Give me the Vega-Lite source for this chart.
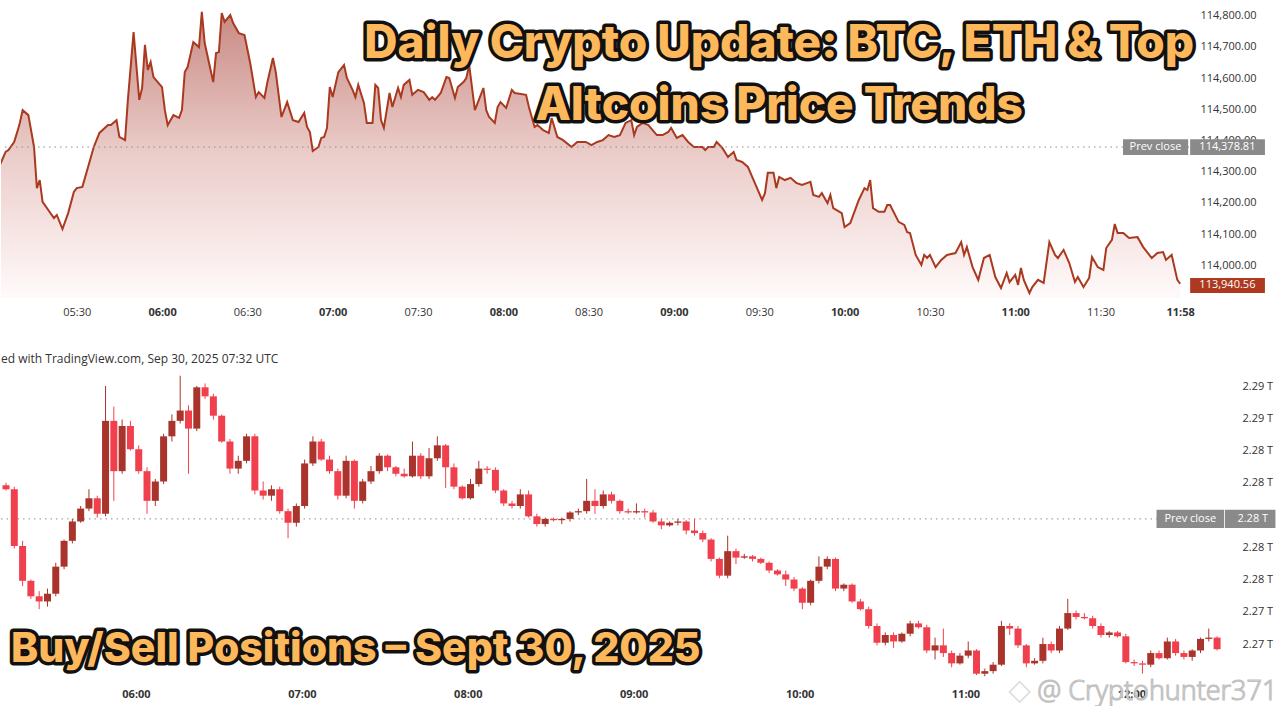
{
  "$schema": "https://vega.github.io/schema/vega-lite/v6.json",
  "background": "white",
  "padding": {"left": 0, "top": 8, "right": 0, "bottom": 0},
  "spacing": 36,
  "config": {
    "view": {"stroke": null},
    "axis": {"labelFont": "Open Sans", "labelColor": "#333333", "labelFontSize": 11, "domain": false, "ticks": false, "grid": false, "labelFlush": false, "labelOverlap": false}
  },
  "datasets": {
    "btc": [
      {"t":"2025-09-30T05:03","p":114321},{"t":"2025-09-30T05:05","p":114363},{"t":"2025-09-30T05:06","p":114369},{"t":"2025-09-30T05:08","p":114395},{"t":"2025-09-30T05:09","p":114424},{"t":"2025-09-30T05:10","p":114456},{"t":"2025-09-30T05:11","p":114497},{"t":"2025-09-30T05:13","p":114481},{"t":"2025-09-30T05:15","p":114379},{"t":"2025-09-30T05:16","p":114247},{"t":"2025-09-30T05:17","p":114273},{"t":"2025-09-30T05:18","p":114203},{"t":"2025-09-30T05:20","p":114177},{"t":"2025-09-30T05:22","p":114151},{"t":"2025-09-30T05:23","p":114161},{"t":"2025-09-30T05:25","p":114116},{"t":"2025-09-30T05:27","p":114167},{"t":"2025-09-30T05:29","p":114235},{"t":"2025-09-30T05:30","p":114247},{"t":"2025-09-30T05:32","p":114251},{"t":"2025-09-30T05:34","p":114315},{"t":"2025-09-30T05:36","p":114379},{"t":"2025-09-30T05:38","p":114424},{"t":"2025-09-30T05:41","p":114449},{"t":"2025-09-30T05:42","p":114449},{"t":"2025-09-30T05:44","p":114465},{"t":"2025-09-30T05:45","p":114411},{"t":"2025-09-30T05:47","p":114401},{"t":"2025-09-30T05:48","p":114530},{"t":"2025-09-30T05:50","p":114747},{"t":"2025-09-30T05:52","p":114530},{"t":"2025-09-30T05:53","p":114568},{"t":"2025-09-30T05:54","p":114706},{"t":"2025-09-30T05:55","p":114626},{"t":"2025-09-30T05:56","p":114651},{"t":"2025-09-30T05:57","p":114603},{"t":"2025-09-30T06:00","p":114571},{"t":"2025-09-30T06:01","p":114497},{"t":"2025-09-30T06:02","p":114449},{"t":"2025-09-30T06:04","p":114481},{"t":"2025-09-30T06:06","p":114472},{"t":"2025-09-30T06:07","p":114497},{"t":"2025-09-30T06:08","p":114619},{"t":"2025-09-30T06:09","p":114635},{"t":"2025-09-30T06:11","p":114715},{"t":"2025-09-30T06:13","p":114699},{"t":"2025-09-30T06:14","p":114812},{"t":"2025-09-30T06:15","p":114712},{"t":"2025-09-30T06:18","p":114587},{"t":"2025-09-30T06:19","p":114680},{"t":"2025-09-30T06:20","p":114683},{"t":"2025-09-30T06:21","p":114808},{"t":"2025-09-30T06:22","p":114780},{"t":"2025-09-30T06:24","p":114802},{"t":"2025-09-30T06:25","p":114776},{"t":"2025-09-30T06:27","p":114744},{"t":"2025-09-30T06:29","p":114738},{"t":"2025-09-30T06:31","p":114648},{"t":"2025-09-30T06:33","p":114539},{"t":"2025-09-30T06:34","p":114555},{"t":"2025-09-30T06:36","p":114536},{"t":"2025-09-30T06:37","p":114584},{"t":"2025-09-30T06:39","p":114664},{"t":"2025-09-30T06:40","p":114619},{"t":"2025-09-30T06:42","p":114475},{"t":"2025-09-30T06:44","p":114523},{"t":"2025-09-30T06:46","p":114465},{"t":"2025-09-30T06:48","p":114459},{"t":"2025-09-30T06:50","p":114488},{"t":"2025-09-30T06:51","p":114443},{"t":"2025-09-30T06:52","p":114427},{"t":"2025-09-30T06:53","p":114366},{"t":"2025-09-30T06:55","p":114379},{"t":"2025-09-30T06:56","p":114408},{"t":"2025-09-30T06:57","p":114411},{"t":"2025-09-30T06:58","p":114440},{"t":"2025-09-30T06:59","p":114571},{"t":"2025-09-30T07:00","p":114539},{"t":"2025-09-30T07:02","p":114619},{"t":"2025-09-30T07:04","p":114642},{"t":"2025-09-30T07:05","p":114600},{"t":"2025-09-30T07:07","p":114562},{"t":"2025-09-30T07:08","p":114539},{"t":"2025-09-30T07:09","p":114578},{"t":"2025-09-30T07:11","p":114520},{"t":"2025-09-30T07:12","p":114456},{"t":"2025-09-30T07:14","p":114456},{"t":"2025-09-30T07:15","p":114578},{"t":"2025-09-30T07:16","p":114568},{"t":"2025-09-30T07:17","p":114465},{"t":"2025-09-30T07:18","p":114440},{"t":"2025-09-30T07:20","p":114552},{"t":"2025-09-30T07:21","p":114507},{"t":"2025-09-30T07:23","p":114568},{"t":"2025-09-30T07:24","p":114539},{"t":"2025-09-30T07:25","p":114578},{"t":"2025-09-30T07:27","p":114594},{"t":"2025-09-30T07:28","p":114546},{"t":"2025-09-30T07:30","p":114562},{"t":"2025-09-30T07:32","p":114555},{"t":"2025-09-30T07:34","p":114530},{"t":"2025-09-30T07:35","p":114539},{"t":"2025-09-30T07:36","p":114530},{"t":"2025-09-30T07:38","p":114552},{"t":"2025-09-30T07:40","p":114603},{"t":"2025-09-30T07:41","p":114600},{"t":"2025-09-30T07:43","p":114536},{"t":"2025-09-30T07:44","p":114571},{"t":"2025-09-30T07:46","p":114587},{"t":"2025-09-30T07:47","p":114600},{"t":"2025-09-30T07:48","p":114642},{"t":"2025-09-30T07:50","p":114497},{"t":"2025-09-30T07:51","p":114520},{"t":"2025-09-30T07:53","p":114568},{"t":"2025-09-30T07:54","p":114497},{"t":"2025-09-30T07:55","p":114475},{"t":"2025-09-30T07:57","p":114456},{"t":"2025-09-30T07:58","p":114507},{"t":"2025-09-30T07:59","p":114523},{"t":"2025-09-30T08:01","p":114504},{"t":"2025-09-30T08:03","p":114562},{"t":"2025-09-30T08:04","p":114552},{"t":"2025-09-30T08:08","p":114546},{"t":"2025-09-30T08:09","p":114507},{"t":"2025-09-30T08:11","p":114443},{"t":"2025-09-30T08:12","p":114449},{"t":"2025-09-30T08:14","p":114433},{"t":"2025-09-30T08:16","p":114424},{"t":"2025-09-30T08:17","p":114472},{"t":"2025-09-30T08:19","p":114411},{"t":"2025-09-30T08:21","p":114401},{"t":"2025-09-30T08:24","p":114379},{"t":"2025-09-30T08:26","p":114395},{"t":"2025-09-30T08:29","p":114395},{"t":"2025-09-30T08:31","p":114385},{"t":"2025-09-30T08:33","p":114395},{"t":"2025-09-30T08:35","p":114401},{"t":"2025-09-30T08:37","p":114417},{"t":"2025-09-30T08:39","p":114411},{"t":"2025-09-30T08:41","p":114417},{"t":"2025-09-30T08:43","p":114456},{"t":"2025-09-30T08:45","p":114465},{"t":"2025-09-30T08:46","p":114417},{"t":"2025-09-30T08:47","p":114443},{"t":"2025-09-30T08:49","p":114456},{"t":"2025-09-30T08:51","p":114449},{"t":"2025-09-30T08:54","p":114417},{"t":"2025-09-30T08:56","p":114417},{"t":"2025-09-30T08:58","p":114427},{"t":"2025-09-30T08:59","p":114440},{"t":"2025-09-30T09:01","p":114408},{"t":"2025-09-30T09:03","p":114417},{"t":"2025-09-30T09:05","p":114395},{"t":"2025-09-30T09:07","p":114379},{"t":"2025-09-30T09:10","p":114379},{"t":"2025-09-30T09:11","p":114369},{"t":"2025-09-30T09:12","p":114379},{"t":"2025-09-30T09:14","p":114379},{"t":"2025-09-30T09:15","p":114395},{"t":"2025-09-30T09:17","p":114376},{"t":"2025-09-30T09:19","p":114347},{"t":"2025-09-30T09:21","p":114363},{"t":"2025-09-30T09:22","p":114337},{"t":"2025-09-30T09:24","p":114331},{"t":"2025-09-30T09:26","p":114315},{"t":"2025-09-30T09:28","p":114273},{"t":"2025-09-30T09:31","p":114209},{"t":"2025-09-30T09:32","p":114231},{"t":"2025-09-30T09:33","p":114296},{"t":"2025-09-30T09:35","p":114296},{"t":"2025-09-30T09:36","p":114247},{"t":"2025-09-30T09:37","p":114283},{"t":"2025-09-30T09:39","p":114273},{"t":"2025-09-30T09:41","p":114280},{"t":"2025-09-30T09:43","p":114264},{"t":"2025-09-30T09:45","p":114257},{"t":"2025-09-30T09:47","p":114264},{"t":"2025-09-30T09:48","p":114267},{"t":"2025-09-30T09:49","p":114225},{"t":"2025-09-30T09:51","p":114219},{"t":"2025-09-30T09:52","p":114231},{"t":"2025-09-30T09:54","p":114199},{"t":"2025-09-30T09:55","p":114225},{"t":"2025-09-30T09:56","p":114183},{"t":"2025-09-30T09:59","p":114167},{"t":"2025-09-30T10:00","p":114122},{"t":"2025-09-30T10:02","p":114135},{"t":"2025-09-30T10:05","p":114209},{"t":"2025-09-30T10:07","p":114247},{"t":"2025-09-30T10:08","p":114241},{"t":"2025-09-30T10:09","p":114273},{"t":"2025-09-30T10:10","p":114183},{"t":"2025-09-30T10:12","p":114171},{"t":"2025-09-30T10:14","p":114171},{"t":"2025-09-30T10:15","p":114193},{"t":"2025-09-30T10:16","p":114193},{"t":"2025-09-30T10:19","p":114139},{"t":"2025-09-30T10:21","p":114129},{"t":"2025-09-30T10:22","p":114106},{"t":"2025-09-30T10:23","p":114103},{"t":"2025-09-30T10:25","p":114033},{"t":"2025-09-30T10:27","p":114001},{"t":"2025-09-30T10:28","p":114033},{"t":"2025-09-30T10:29","p":114023},{"t":"2025-09-30T10:30","p":114033},{"t":"2025-09-30T10:32","p":113994},{"t":"2025-09-30T10:34","p":114017},{"t":"2025-09-30T10:36","p":114033},{"t":"2025-09-30T10:39","p":114039},{"t":"2025-09-30T10:41","p":114074},{"t":"2025-09-30T10:42","p":114033},{"t":"2025-09-30T10:43","p":114058},{"t":"2025-09-30T10:45","p":113994},{"t":"2025-09-30T10:47","p":113953},{"t":"2025-09-30T10:49","p":114023},{"t":"2025-09-30T10:51","p":114033},{"t":"2025-09-30T10:53","p":113962},{"t":"2025-09-30T10:55","p":113927},{"t":"2025-09-30T10:57","p":113975},{"t":"2025-09-30T10:58","p":113946},{"t":"2025-09-30T11:00","p":113969},{"t":"2025-09-30T11:01","p":113937},{"t":"2025-09-30T11:02","p":113991},{"t":"2025-09-30T11:03","p":113953},{"t":"2025-09-30T11:05","p":113911},{"t":"2025-09-30T11:06","p":113930},{"t":"2025-09-30T11:08","p":113953},{"t":"2025-09-30T11:10","p":113943},{"t":"2025-09-30T11:12","p":114074},{"t":"2025-09-30T11:14","p":114033},{"t":"2025-09-30T11:15","p":114023},{"t":"2025-09-30T11:17","p":114049},{"t":"2025-09-30T11:19","p":114007},{"t":"2025-09-30T11:21","p":113946},{"t":"2025-09-30T11:22","p":113962},{"t":"2025-09-30T11:24","p":113930},{"t":"2025-09-30T11:26","p":113959},{"t":"2025-09-30T11:27","p":114026},{"t":"2025-09-30T11:29","p":113994},{"t":"2025-09-30T11:31","p":113985},{"t":"2025-09-30T11:32","p":114055},{"t":"2025-09-30T11:34","p":114081},{"t":"2025-09-30T11:35","p":114132},{"t":"2025-09-30T11:36","p":114103},{"t":"2025-09-30T11:38","p":114103},{"t":"2025-09-30T11:40","p":114087},{"t":"2025-09-30T11:43","p":114090},{"t":"2025-09-30T11:45","p":114058},{"t":"2025-09-30T11:48","p":114023},{"t":"2025-09-30T11:50","p":114039},{"t":"2025-09-30T11:52","p":114042},{"t":"2025-09-30T11:53","p":114017},{"t":"2025-09-30T11:55","p":114033},{"t":"2025-09-30T11:57","p":113953},{"t":"2025-09-30T11:58","p":113940.56}
    ],
    "cap": [
      {"t":"2025-09-30T05:13","o":2.28084,"h":2.281,"l":2.28052,"c":2.2806},{"t":"2025-09-30T05:16","o":2.2806,"h":2.28076,"l":2.27692,"c":2.27708},{"t":"2025-09-30T05:19","o":2.27708,"h":2.2774,"l":2.2746,"c":2.27492},{"t":"2025-09-30T05:22","o":2.27492,"h":2.275,"l":2.2738,"c":2.27396},{"t":"2025-09-30T05:25","o":2.27396,"h":2.27428,"l":2.27316,"c":2.27364},{"t":"2025-09-30T05:28","o":2.27364,"h":2.27444,"l":2.27332,"c":2.27412},{"t":"2025-09-30T05:31","o":2.27412,"h":2.27604,"l":2.27396,"c":2.2758},{"t":"2025-09-30T05:34","o":2.2758,"h":2.27748,"l":2.27564,"c":2.2774},{"t":"2025-09-30T05:37","o":2.2774,"h":2.27876,"l":2.27724,"c":2.2786},{"t":"2025-09-30T05:40","o":2.2786,"h":2.27956,"l":2.27852,"c":2.2794},{"t":"2025-09-30T05:43","o":2.2794,"h":2.2806,"l":2.27924,"c":2.28004},{"t":"2025-09-30T05:46","o":2.28004,"h":2.2802,"l":2.27884,"c":2.27908},{"t":"2025-09-30T05:49","o":2.27908,"h":2.287,"l":2.27892,"c":2.28484},{"t":"2025-09-30T05:52","o":2.28484,"h":2.28572,"l":2.27988,"c":2.28172},{"t":"2025-09-30T05:55","o":2.28172,"h":2.28492,"l":2.28156,"c":2.28452},{"t":"2025-09-30T05:58","o":2.28452,"h":2.28484,"l":2.283,"c":2.28308},{"t":"2025-09-30T06:01","o":2.28308,"h":2.28332,"l":2.28156,"c":2.28172},{"t":"2025-09-30T06:04","o":2.28172,"h":2.28196,"l":2.27908,"c":2.27988},{"t":"2025-09-30T06:07","o":2.27988,"h":2.28124,"l":2.27956,"c":2.28108},{"t":"2025-09-30T06:10","o":2.28108,"h":2.28404,"l":2.28092,"c":2.28388},{"t":"2025-09-30T06:13","o":2.28388,"h":2.28524,"l":2.28356,"c":2.28484},{"t":"2025-09-30T06:16","o":2.28484,"h":2.28764,"l":2.28468,"c":2.28548},{"t":"2025-09-30T06:19","o":2.28548,"h":2.2858,"l":2.28156,"c":2.28436},{"t":"2025-09-30T06:22","o":2.28436,"h":2.287,"l":2.2842,"c":2.28692},{"t":"2025-09-30T06:25","o":2.28692,"h":2.28716,"l":2.2862,"c":2.28636},{"t":"2025-09-30T06:28","o":2.28636,"h":2.28652,"l":2.28492,"c":2.28516},{"t":"2025-09-30T06:31","o":2.28516,"h":2.28524,"l":2.28348,"c":2.28356},{"t":"2025-09-30T06:34","o":2.28356,"h":2.28372,"l":2.28156,"c":2.28188},{"t":"2025-09-30T06:37","o":2.28188,"h":2.28268,"l":2.28156,"c":2.28236},{"t":"2025-09-30T06:40","o":2.28236,"h":2.28404,"l":2.2822,"c":2.28388},{"t":"2025-09-30T06:43","o":2.28388,"h":2.28404,"l":2.28028,"c":2.28052},{"t":"2025-09-30T06:46","o":2.28052,"h":2.28108,"l":2.27996,"c":2.2802},{"t":"2025-09-30T06:49","o":2.2802,"h":2.28084,"l":2.27988,"c":2.2806},{"t":"2025-09-30T06:52","o":2.2806,"h":2.28076,"l":2.27908,"c":2.27924},{"t":"2025-09-30T06:55","o":2.27924,"h":2.2794,"l":2.27756,"c":2.27852},{"t":"2025-09-30T06:58","o":2.27852,"h":2.27972,"l":2.27828,"c":2.27956},{"t":"2025-09-30T07:01","o":2.27956,"h":2.28244,"l":2.2794,"c":2.2822},{"t":"2025-09-30T07:04","o":2.2822,"h":2.28388,"l":2.28204,"c":2.28356},{"t":"2025-09-30T07:07","o":2.28356,"h":2.28372,"l":2.28236,"c":2.28244},{"t":"2025-09-30T07:10","o":2.28244,"h":2.28268,"l":2.28156,"c":2.28172},{"t":"2025-09-30T07:13","o":2.28172,"h":2.28188,"l":2.27996,"c":2.2802},{"t":"2025-09-30T07:16","o":2.2802,"h":2.28268,"l":2.28004,"c":2.28236},{"t":"2025-09-30T07:19","o":2.28236,"h":2.28244,"l":2.2794,"c":2.27988},{"t":"2025-09-30T07:22","o":2.27988,"h":2.28124,"l":2.27972,"c":2.28108},{"t":"2025-09-30T07:25","o":2.28108,"h":2.28204,"l":2.28092,"c":2.28172},{"t":"2025-09-30T07:28","o":2.28172,"h":2.28284,"l":2.28156,"c":2.28268},{"t":"2025-09-30T07:31","o":2.28268,"h":2.28276,"l":2.28172,"c":2.28196},{"t":"2025-09-30T07:34","o":2.28196,"h":2.28204,"l":2.2814,"c":2.28156},{"t":"2025-09-30T07:37","o":2.28156,"h":2.28188,"l":2.28132,"c":2.2814},{"t":"2025-09-30T07:40","o":2.2814,"h":2.28356,"l":2.28132,"c":2.28268},{"t":"2025-09-30T07:43","o":2.28268,"h":2.28284,"l":2.28124,"c":2.2814},{"t":"2025-09-30T07:46","o":2.2814,"h":2.28316,"l":2.28124,"c":2.28252},{"t":"2025-09-30T07:49","o":2.28252,"h":2.28388,"l":2.28236,"c":2.28332},{"t":"2025-09-30T07:52","o":2.28332,"h":2.2834,"l":2.28068,"c":2.28196},{"t":"2025-09-30T07:55","o":2.28196,"h":2.2822,"l":2.2806,"c":2.28076},{"t":"2025-09-30T07:58","o":2.28076,"h":2.28084,"l":2.27996,"c":2.28004},{"t":"2025-09-30T08:01","o":2.28004,"h":2.28124,"l":2.27996,"c":2.28092},{"t":"2025-09-30T08:04","o":2.28092,"h":2.28236,"l":2.28076,"c":2.28188},{"t":"2025-09-30T08:07","o":2.28188,"h":2.28204,"l":2.28156,"c":2.2818},{"t":"2025-09-30T08:10","o":2.2818,"h":2.28196,"l":2.28036,"c":2.28052},{"t":"2025-09-30T08:13","o":2.28052,"h":2.2806,"l":2.27956,"c":2.27972},{"t":"2025-09-30T08:16","o":2.27972,"h":2.27988,"l":2.2794,"c":2.27956},{"t":"2025-09-30T08:19","o":2.27956,"h":2.2806,"l":2.2794,"c":2.28028},{"t":"2025-09-30T08:22","o":2.28028,"h":2.28052,"l":2.27884,"c":2.27892},{"t":"2025-09-30T08:25","o":2.27892,"h":2.27908,"l":2.27828,"c":2.27844},{"t":"2025-09-30T08:28","o":2.27844,"h":2.27884,"l":2.27828,"c":2.27876},{"t":"2025-09-30T08:31","o":2.27876,"h":2.27884,"l":2.2786,"c":2.27868},{"t":"2025-09-30T08:34","o":2.27868,"h":2.27884,"l":2.27844,"c":2.27876},{"t":"2025-09-30T08:37","o":2.27876,"h":2.27924,"l":2.2786,"c":2.27916},{"t":"2025-09-30T08:40","o":2.27916,"h":2.2794,"l":2.279,"c":2.27924},{"t":"2025-09-30T08:43","o":2.27924,"h":2.28124,"l":2.27908,"c":2.27988},{"t":"2025-09-30T08:46","o":2.27988,"h":2.2806,"l":2.27908,"c":2.27956},{"t":"2025-09-30T08:49","o":2.27956,"h":2.28052,"l":2.2794,"c":2.28028},{"t":"2025-09-30T08:52","o":2.28028,"h":2.28044,"l":2.27972,"c":2.27988},{"t":"2025-09-30T08:55","o":2.27988,"h":2.27996,"l":2.27908,"c":2.27924},{"t":"2025-09-30T08:58","o":2.27924,"h":2.2794,"l":2.27908,"c":2.27916},{"t":"2025-09-30T09:01","o":2.27916,"h":2.27972,"l":2.27908,"c":2.27924},{"t":"2025-09-30T09:04","o":2.27924,"h":2.2794,"l":2.27884,"c":2.27916},{"t":"2025-09-30T09:07","o":2.27916,"h":2.27932,"l":2.27852,"c":2.2786},{"t":"2025-09-30T09:10","o":2.2786,"h":2.27876,"l":2.27812,"c":2.27836},{"t":"2025-09-30T09:13","o":2.27836,"h":2.2786,"l":2.27828,"c":2.27852},{"t":"2025-09-30T09:16","o":2.27852,"h":2.27876,"l":2.27836,"c":2.2786},{"t":"2025-09-30T09:19","o":2.2786,"h":2.27868,"l":2.2778,"c":2.27804},{"t":"2025-09-30T09:22","o":2.27804,"h":2.27876,"l":2.27772,"c":2.27788},{"t":"2025-09-30T09:25","o":2.27788,"h":2.27804,"l":2.27732,"c":2.27748},{"t":"2025-09-30T09:28","o":2.27748,"h":2.27756,"l":2.27612,"c":2.27628},{"t":"2025-09-30T09:31","o":2.27628,"h":2.27636,"l":2.27508,"c":2.27524},{"t":"2025-09-30T09:34","o":2.27524,"h":2.27772,"l":2.27508,"c":2.27676},{"t":"2025-09-30T09:37","o":2.27676,"h":2.27692,"l":2.27596,"c":2.27636},{"t":"2025-09-30T09:40","o":2.27636,"h":2.2766,"l":2.27628,"c":2.27644},{"t":"2025-09-30T09:43","o":2.27644,"h":2.27652,"l":2.27612,"c":2.27628},{"t":"2025-09-30T09:46","o":2.27628,"h":2.27636,"l":2.27596,"c":2.27604},{"t":"2025-09-30T09:49","o":2.27604,"h":2.27612,"l":2.2754,"c":2.27556},{"t":"2025-09-30T09:52","o":2.27556,"h":2.27564,"l":2.27524,"c":2.27532},{"t":"2025-09-30T09:55","o":2.27532,"h":2.27556,"l":2.2746,"c":2.275},{"t":"2025-09-30T09:58","o":2.275,"h":2.27516,"l":2.27428,"c":2.27444},{"t":"2025-09-30T10:01","o":2.27444,"h":2.27452,"l":2.27316,"c":2.27356},{"t":"2025-09-30T10:04","o":2.27356,"h":2.275,"l":2.2734,"c":2.27492},{"t":"2025-09-30T10:07","o":2.27492,"h":2.27644,"l":2.27476,"c":2.2758},{"t":"2025-09-30T10:10","o":2.2758,"h":2.27644,"l":2.27564,"c":2.27628},{"t":"2025-09-30T10:13","o":2.27628,"h":2.27636,"l":2.27428,"c":2.27444},{"t":"2025-09-30T10:16","o":2.27444,"h":2.27476,"l":2.27428,"c":2.27468},{"t":"2025-09-30T10:19","o":2.27468,"h":2.27476,"l":2.27356,"c":2.27364},{"t":"2025-09-30T10:22","o":2.27364,"h":2.2738,"l":2.27308,"c":2.27316},{"t":"2025-09-30T10:25","o":2.27316,"h":2.27332,"l":2.27196,"c":2.27212},{"t":"2025-09-30T10:28","o":2.27212,"h":2.27228,"l":2.27092,"c":2.27108},{"t":"2025-09-30T10:31","o":2.27108,"h":2.27172,"l":2.27092,"c":2.27156},{"t":"2025-09-30T10:34","o":2.27156,"h":2.27172,"l":2.27076,"c":2.27116},{"t":"2025-09-30T10:37","o":2.27116,"h":2.27172,"l":2.27108,"c":2.27164},{"t":"2025-09-30T10:40","o":2.27164,"h":2.27244,"l":2.27148,"c":2.27228},{"t":"2025-09-30T10:43","o":2.27228,"h":2.27244,"l":2.27196,"c":2.27204},{"t":"2025-09-30T10:46","o":2.27204,"h":2.2722,"l":2.27044,"c":2.2706},{"t":"2025-09-30T10:49","o":2.2706,"h":2.2714,"l":2.27004,"c":2.27092},{"t":"2025-09-30T10:52","o":2.27092,"h":2.27196,"l":2.2702,"c":2.27044},{"t":"2025-09-30T10:55","o":2.27044,"h":2.2706,"l":2.26956,"c":2.2698},{"t":"2025-09-30T10:58","o":2.2698,"h":2.27044,"l":2.26972,"c":2.27028},{"t":"2025-09-30T11:01","o":2.27028,"h":2.27116,"l":2.27012,"c":2.2706},{"t":"2025-09-30T11:04","o":2.2706,"h":2.27068,"l":2.26908,"c":2.26916},{"t":"2025-09-30T11:07","o":2.26916,"h":2.26948,"l":2.269,"c":2.26932},{"t":"2025-09-30T11:10","o":2.26932,"h":2.26988,"l":2.26916,"c":2.26972},{"t":"2025-09-30T11:13","o":2.26972,"h":2.27244,"l":2.26964,"c":2.27212},{"t":"2025-09-30T11:16","o":2.27212,"h":2.27228,"l":2.27156,"c":2.27196},{"t":"2025-09-30T11:19","o":2.27196,"h":2.27212,"l":2.27076,"c":2.27092},{"t":"2025-09-30T11:22","o":2.27092,"h":2.271,"l":2.26956,"c":2.2698},{"t":"2025-09-30T11:25","o":2.2698,"h":2.27012,"l":2.26972,"c":2.26996},{"t":"2025-09-30T11:28","o":2.26996,"h":2.2714,"l":2.2698,"c":2.271},{"t":"2025-09-30T11:31","o":2.271,"h":2.27116,"l":2.27044,"c":2.2706},{"t":"2025-09-30T11:34","o":2.2706,"h":2.27212,"l":2.27044,"c":2.27196},{"t":"2025-09-30T11:37","o":2.27196,"h":2.2738,"l":2.27188,"c":2.27292},{"t":"2025-09-30T11:40","o":2.27292,"h":2.27308,"l":2.27252,"c":2.27268},{"t":"2025-09-30T11:43","o":2.27268,"h":2.27292,"l":2.27252,"c":2.2726},{"t":"2025-09-30T11:46","o":2.2726,"h":2.27276,"l":2.27196,"c":2.27212},{"t":"2025-09-30T11:49","o":2.27212,"h":2.27228,"l":2.2714,"c":2.27156},{"t":"2025-09-30T11:52","o":2.27156,"h":2.2718,"l":2.2714,"c":2.27172},{"t":"2025-09-30T11:55","o":2.27172,"h":2.2718,"l":2.2714,"c":2.27148},{"t":"2025-09-30T11:58","o":2.27148,"h":2.27164,"l":2.2698,"c":2.26988},{"t":"2025-09-30T12:01","o":2.26988,"h":2.27004,"l":2.26964,"c":2.2698},{"t":"2025-09-30T12:04","o":2.2698,"h":2.26996,"l":2.26916,"c":2.26972},{"t":"2025-09-30T12:07","o":2.26972,"h":2.2706,"l":2.26956,"c":2.27044},{"t":"2025-09-30T12:10","o":2.27044,"h":2.2706,"l":2.27004,"c":2.27012},{"t":"2025-09-30T12:13","o":2.27012,"h":2.2714,"l":2.27004,"c":2.27116},{"t":"2025-09-30T12:16","o":2.27116,"h":2.27132,"l":2.27028,"c":2.27044},{"t":"2025-09-30T12:19","o":2.27044,"h":2.2706,"l":2.27004,"c":2.2702},{"t":"2025-09-30T12:22","o":2.2702,"h":2.27068,"l":2.26996,"c":2.2706},{"t":"2025-09-30T12:25","o":2.2706,"h":2.2714,"l":2.27044,"c":2.27132},{"t":"2025-09-30T12:28","o":2.27132,"h":2.27196,"l":2.27116,"c":2.2714},{"t":"2025-09-30T12:31","o":2.2714,"h":2.27148,"l":2.2706,"c":2.27068}
    ]
  },
  "vconcat": [
    {
      "width": 1188,
      "height": 290,
      "layer": [
        {
          "data": {"name": "btc"},
          "mark": {"type": "area", "clip": true, "color": {"gradient": "linear", "x1": 0, "y1": 0, "x2": 0, "y2": 1, "stops": [{"offset": 0, "color": "#c98a84"}, {"offset": 0.5, "color": "#ebcdca"}, {"offset": 1, "color": "#fffafa"}]}},
          "encoding": {
            "x": {"field": "t", "type": "temporal",
              "scale": {"domain": [{"year": 2025, "month": 9, "date": 30, "hours": 5, "minutes": 3, "seconds": 23}, {"year": 2025, "month": 9, "date": 30, "hours": 12, "minutes": 1, "seconds": 6}]},
              "axis": {"title": null, "format": "%H:%M", "labelPadding": 8, "labelOverlap": false, "labelFlush": false, "tickCount": 40,
                "values": [{"year": 2025, "month": 9, "date": 30, "hours": 5, "minutes": 30}, {"year": 2025, "month": 9, "date": 30, "hours": 6, "minutes": 0}, {"year": 2025, "month": 9, "date": 30, "hours": 6, "minutes": 30}, {"year": 2025, "month": 9, "date": 30, "hours": 7, "minutes": 0}, {"year": 2025, "month": 9, "date": 30, "hours": 7, "minutes": 30}, {"year": 2025, "month": 9, "date": 30, "hours": 8, "minutes": 0}, {"year": 2025, "month": 9, "date": 30, "hours": 8, "minutes": 30}, {"year": 2025, "month": 9, "date": 30, "hours": 9, "minutes": 0}, {"year": 2025, "month": 9, "date": 30, "hours": 9, "minutes": 30}, {"year": 2025, "month": 9, "date": 30, "hours": 10, "minutes": 0}, {"year": 2025, "month": 9, "date": 30, "hours": 10, "minutes": 30}, {"year": 2025, "month": 9, "date": 30, "hours": 11, "minutes": 0}, {"year": 2025, "month": 9, "date": 30, "hours": 11, "minutes": 30}, {"year": 2025, "month": 9, "date": 30, "hours": 11, "minutes": 58}],
                "labelFontWeight": {"condition": {"test": "minutes(datum.value) !== 30", "value": "bold"}, "value": "normal"}}},
            "y": {"field": "p", "type": "quantitative",
              "scale": {"domain": [113894.9, 114824.4], "zero": false, "nice": false},
              "axis": {"title": null, "orient": "right", "format": ",.2f", "labelPadding": 11, "labelOverlap": false, "labelBound": false, "tickCount": 20, "values": [114000, 114100, 114200, 114300, 114400, 114500, 114600, 114700, 114800]}},
            "y2": {"datum": 113894.9}
          }
        },
        {
          "data": {"name": "btc"},
          "mark": {"type": "line", "clip": true, "color": "#a9391f", "strokeWidth": 2},
          "encoding": {"x": {"field": "t", "type": "temporal"}, "y": {"field": "p", "type": "quantitative"}}
        },
        {
          "data": {"values": [{"p": 114378.81}]},
          "mark": {"type": "rule", "color": "#8f8f8f", "strokeDash": [1.5, 4], "strokeWidth": 1},
          "encoding": {"y": {"field": "p", "type": "quantitative"}}
        },
        {
          "data": {"values": [
            {"kind": "prev", "x1": "2025-09-30T11:37:54", "x2": "2025-09-30T12:00:48", "y1": 114353, "y2": 114404},
            {"kind": "prev", "x1": "2025-09-30T12:01:30", "x2": "2025-09-30T12:27:48", "y1": 114353, "y2": 114404},
            {"kind": "last", "x1": "2025-09-30T12:01:30", "x2": "2025-09-30T12:27:48", "y1": 113911, "y2": 113959}
          ]},
          "mark": {"type": "rect"},
          "encoding": {
            "x": {"field": "x1", "type": "temporal"}, "x2": {"field": "x2"},
            "y": {"field": "y1", "type": "quantitative"}, "y2": {"field": "y2"},
            "color": {"condition": {"test": "datum.kind === 'last'", "value": "#ad3a20"}, "value": "#8a8a8a"}
          }
        },
        {
          "data": {"values": [
            {"t": "2025-09-30T11:49:18", "p": 114378.81, "label": "Prev close"},
            {"t": "2025-09-30T12:14:36", "p": 114378.81, "label": "114,378.81"},
            {"t": "2025-09-30T12:14:36", "p": 113937, "label": "113,940.56"}
          ]},
          "mark": {"type": "text", "color": "white", "font": "Open Sans", "fontSize": 11, "baseline": "middle", "align": "center"},
          "encoding": {"x": {"field": "t", "type": "temporal"}, "y": {"field": "p", "type": "quantitative"}, "text": {"field": "label"}}
        },
        {
          "data": {"values": [
            {"t": "2025-09-30T09:37", "p": 114664, "label": "Daily Crypto Update: BTC, ETH & Top"},
            {"t": "2025-09-30T09:37", "p": 114465, "label": "Altcoins Price Trends"}
          ]},
          "mark": {"type": "text", "font": "Inter", "fontWeight": 800, "fontSize": 46, "align": "center", "baseline": "alphabetic", "color": "#111111", "stroke": "#111111", "strokeWidth": 7, "strokeJoin": "round"},
          "encoding": {"x": {"field": "t", "type": "temporal"}, "y": {"field": "p", "type": "quantitative"}, "text": {"field": "label"}}
        },
        {
          "data": {"values": [
            {"t": "2025-09-30T09:37", "p": 114664, "label": "Daily Crypto Update: BTC, ETH & Top"},
            {"t": "2025-09-30T09:37", "p": 114465, "label": "Altcoins Price Trends"}
          ]},
          "mark": {"type": "text", "font": "Inter", "fontWeight": 800, "fontSize": 46, "align": "center", "baseline": "alphabetic", "color": "#fdb85c"},
          "encoding": {"x": {"field": "t", "type": "temporal"}, "y": {"field": "p", "type": "quantitative"}, "text": {"field": "label"}}
        }
      ]
    },
    {
      "width": 1228,
      "height": 310,
      "title": {"text": "ed with TradingView.com, Sep 30, 2025 07:32 UTC", "anchor": "start", "frame": "group", "font": "Open Sans", "fontSize": 12, "fontWeight": "normal", "color": "#333333", "offset": 7},
      "layer": [
        {
          "data": {"values": [{"v": 2.27876}]},
          "mark": {"type": "rule", "color": "#8f8f8f", "strokeDash": [1.5, 4], "strokeWidth": 1},
          "encoding": {"y": {"field": "v", "type": "quantitative"}}
        },
        {
          "data": {"name": "cap"},
          "mark": {"type": "rule", "strokeWidth": 1},
          "encoding": {
            "x": {"field": "t", "type": "temporal",
              "scale": {"domain": [{"year": 2025, "month": 9, "date": 30, "hours": 5, "minutes": 13}, {"year": 2025, "month": 9, "date": 30, "hours": 12, "minutes": 33, "seconds": 30}]},
              "axis": {"title": null, "format": "%H:%M", "labelPadding": 5, "labelFontWeight": "bold", "labelOverlap": false, "labelFlush": false, "tickCount": 40,
                "values": [{"year": 2025, "month": 9, "date": 30, "hours": 6, "minutes": 0}, {"year": 2025, "month": 9, "date": 30, "hours": 7, "minutes": 0}, {"year": 2025, "month": 9, "date": 30, "hours": 8, "minutes": 0}, {"year": 2025, "month": 9, "date": 30, "hours": 9, "minutes": 0}, {"year": 2025, "month": 9, "date": 30, "hours": 10, "minutes": 0}, {"year": 2025, "month": 9, "date": 30, "hours": 11, "minutes": 0}, {"year": 2025, "month": 9, "date": 30, "hours": 12, "minutes": 0}]}},
            "y": {"field": "l", "type": "quantitative",
              "scale": {"domain": [2.268584, 2.287808], "zero": false, "nice": false},
              "axis": {"title": null, "orient": "right", "labelPadding": 13, "labelOverlap": false, "labelBound": false, "tickCount": 20, "values": [2.271, 2.273, 2.275, 2.277, 2.279, 2.281, 2.283, 2.285, 2.287],
                "labelExpr": "datum.value >= 2.2845 ? '2.29 T' : datum.value >= 2.2745 ? '2.28 T' : '2.27 T'"}},
            "y2": {"field": "h"},
            "color": {"condition": {"test": "datum.c >= datum.o", "value": "#a8342c"}, "value": "#f0404d"}
          }
        },
        {
          "data": {"name": "cap"},
          "mark": {"type": "bar", "width": 7},
          "encoding": {
            "x": {"field": "t", "type": "temporal"},
            "y": {"field": "o", "type": "quantitative"},
            "y2": {"field": "c"},
            "color": {"condition": {"test": "datum.c >= datum.o", "value": "#a8342c"}, "value": "#f0404d"}
          }
        },
        {
          "data": {"values": [
            {"x1": "2025-09-30T12:09:06", "x2": "2025-09-30T12:33:30", "y1": 2.2782, "y2": 2.27932},
            {"x1": "2025-09-30T12:33:48", "x2": "2025-09-30T12:52:06", "y1": 2.2782, "y2": 2.27932}
          ]},
          "mark": {"type": "rect", "color": "#8a8a8a"},
          "encoding": {"x": {"field": "x1", "type": "temporal"}, "x2": {"field": "x2"}, "y": {"field": "y1", "type": "quantitative"}, "y2": {"field": "y2"}}
        },
        {
          "data": {"values": [
            {"t": "2025-09-30T12:21:18", "v": 2.27876, "label": "Prev close"},
            {"t": "2025-09-30T12:43:54", "v": 2.27876, "label": "2.28 T"}
          ]},
          "mark": {"type": "text", "color": "white", "font": "Open Sans", "fontSize": 11, "baseline": "middle", "align": "center"},
          "encoding": {"x": {"field": "t", "type": "temporal"}, "y": {"field": "v", "type": "quantitative"}, "text": {"field": "label"}}
        },
        {
          "data": {"values": [{"t": "2025-09-30T11:19:36", "v": 2.268032}]},
          "mark": {"type": "point", "shape": "diamond", "size": 420, "filled": false, "color": "#cfcfcf", "strokeWidth": 1.5},
          "encoding": {"x": {"field": "t", "type": "temporal"}, "y": {"field": "v", "type": "quantitative"}}
        },
        {
          "data": {"values": [{"t": "2025-09-30T11:26", "v": 2.268032, "label": "@ Cryptohunter371"}]},
          "mark": {"type": "text", "font": "Open Sans", "fontWeight": 300, "fontSize": 27, "align": "left", "baseline": "middle", "color": "white", "stroke": "#c2c2c2", "strokeWidth": 1.2},
          "encoding": {"x": {"field": "t", "type": "temporal"}, "y": {"field": "v", "type": "quantitative"}, "text": {"field": "label"}}
        },
        {
          "data": {"values": [{"t": "2025-09-30T07:19:30", "v": 2.269888, "label": "Buy/Sell Positions – Sept 30, 2025"}]},
          "mark": {"type": "text", "font": "Inter", "fontWeight": 800, "fontSize": 41, "align": "center", "baseline": "alphabetic", "color": "#111111", "stroke": "#111111", "strokeWidth": 7, "strokeJoin": "round"},
          "encoding": {"x": {"field": "t", "type": "temporal"}, "y": {"field": "v", "type": "quantitative"}, "text": {"field": "label"}}
        },
        {
          "data": {"values": [{"t": "2025-09-30T07:19:30", "v": 2.269888, "label": "Buy/Sell Positions – Sept 30, 2025"}]},
          "mark": {"type": "text", "font": "Inter", "fontWeight": 800, "fontSize": 41, "align": "center", "baseline": "alphabetic", "color": "#fdb85c"},
          "encoding": {"x": {"field": "t", "type": "temporal"}, "y": {"field": "v", "type": "quantitative"}, "text": {"field": "label"}}
        }
      ]
    }
  ]
}
